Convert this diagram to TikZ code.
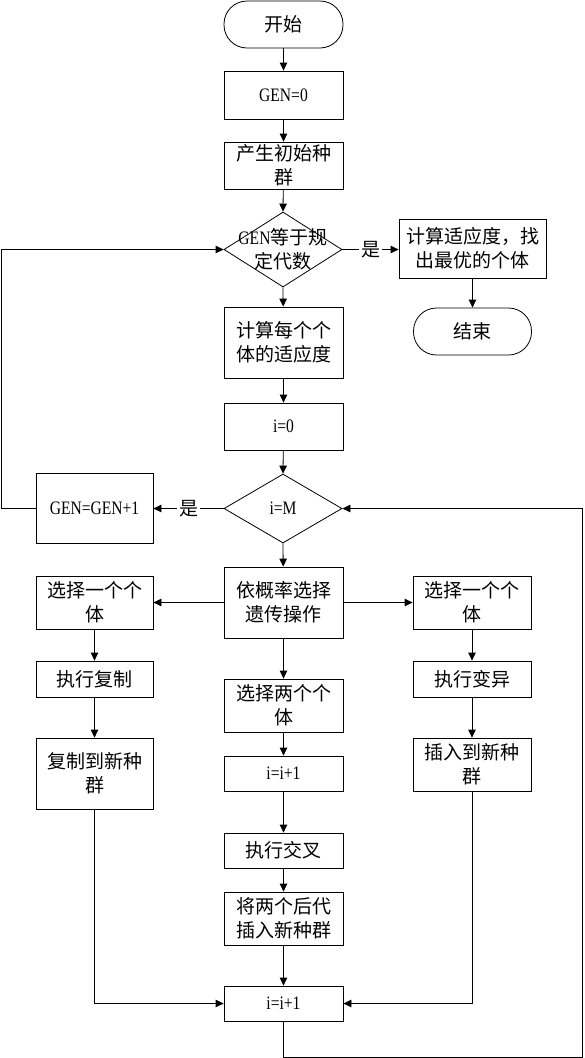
\documentclass[tikz,border=0pt]{standalone}
\usepackage{fontspec}
\setmainfont[FakeStretch=0.82]{Liberation Serif}
\newfontfamily\cjk{Noto Sans CJK SC}
\usetikzlibrary{shapes.geometric,arrows.meta}
\begin{document}
\begin{tikzpicture}[x=1pt,y=-1pt,
  every path/.style={line width=0.8pt},
  txt/.style={font=\cjk\fontsize{19}{24}\selectfont, align=center, inner sep=0pt},
  lat/.style={font=\rmfamily\fontsize{19}{24}\selectfont},
  box/.style={draw, txt, rectangle},
  term/.style={box, rounded corners=23pt},
  dia/.style={draw, diamond, inner sep=0pt, minimum width=118pt},
  arr/.style={-{Triangle[length=8pt,width=7.5pt]}},
  lbl/.style={txt, fill=white, inner xsep=2pt}]
\useasboundingbox (0,0) rectangle (584,1058);
% center column
\node[term, minimum width=119pt, minimum height=47pt] (start) at (283.5,24.5) {开始};
\node[box, lat, minimum width=119pt, minimum height=48pt] (gen0) at (283.5,95) {GEN=0};
\node[box, minimum width=119pt, minimum height=47pt] (init) at (283.5,165.5) {产生初始种\\群};
\node[dia, minimum height=75pt] (d1) at (283,249.5) {};
\node[txt] (d1t) at (d1.center) {{\rmfamily GEN}等于规\\定代数};
\node[box, minimum width=147pt, minimum height=59pt] (best) at (472.5,248.5) {计算适应度，找\\出最优的个体};
\node[term, minimum width=118pt, minimum height=47pt] (end) at (472.5,331.5) {结束};
\node[box, minimum width=119pt, minimum height=71pt] (fit) at (283.5,342.5) {计算每个个\\体的适应度};
\node[box, lat, minimum width=119pt, minimum height=47pt] (i0) at (283.5,426.5) {i=0};
\node[dia, minimum height=69pt] (d2) at (283,508.5) {};
\node[txt, lat] (d2t) at (d2.center) {i=M};
\node[box, lat, minimum width=117pt, minimum height=70pt] (genp) at (94.5,508) {GEN=GEN+1};
\node[box, minimum width=119pt, minimum height=71pt] (sel) at (283.5,602.5) {依概率选择\\遗传操作};
\node[box, minimum width=117pt, minimum height=53pt] (l1) at (94.5,602.5) {选择一个个\\体};
\node[box, minimum width=118pt, minimum height=53pt] (r1) at (472,602.5) {选择一个个\\体};
\node[box, minimum width=117pt, minimum height=36pt] (l2) at (94.5,679) {执行复制};
\node[box, minimum width=118pt, minimum height=36pt] (r2) at (472,679) {执行变异};
\node[box, minimum width=117pt, minimum height=71pt] (l3) at (94.5,773.5) {复制到新种\\群};
\node[box, minimum width=118pt, minimum height=53pt] (r3) at (472,764.5) {插入到新种\\群};
\node[box, minimum width=119pt, minimum height=53pt] (m1) at (283.5,705.5) {选择两个个\\体};
\node[box, lat, minimum width=119pt, minimum height=35pt] (m2) at (283.5,773.5) {i=i+1};
\node[box, minimum width=119pt, minimum height=35pt] (m3) at (283.5,850.5) {执行交叉};
\node[box, minimum width=119pt, minimum height=53pt] (m4) at (283.5,918.5) {将两个后代\\插入新种群};
\node[box, lat, minimum width=119pt, minimum height=35pt] (m5) at (283.5,1003.5) {i=i+1};
% coordinates for loops
\coordinate (cb) at (582,1057);
\coordinate (cl) at (1,249.5);
% connectors
\draw[arr] (start) -- (gen0);
\draw[arr] (gen0) -- (init);
\draw[arr] (init) -- (d1.north);
\draw[arr] (d1.east) -- node[lbl] {是} (best.west |- d1.east);
\draw[arr] (best) -- (end);
\draw[arr] (d1.south) -- (fit);
\draw[arr] (fit) -- (i0);
\draw[arr] (i0) -- (d2.north);
\draw[arr] (d2.west) -- node[lbl] {是} (genp.east |- d2.west);
\draw[arr] (genp.west) -| (cl) -- (d1.west);
\draw[arr] (d2.south) -- (sel);
\draw[arr] (sel.west) -- (l1.east |- sel.west);
\draw[arr] (sel.east) -- (r1.west |- sel.east);
\draw[arr] (l1) -- (l2);
\draw[arr] (l2) -- (l3);
\draw[arr] (r1) -- (r2);
\draw[arr] (r2) -- (r3);
\draw[arr] (sel) -- (m1);
\draw[arr] (m1) -- (m2);
\draw[arr] (m2) -- (m3);
\draw[arr] (m3) -- (m4);
\draw[arr] (m4) -- (m5);
\draw[arr] (l3.south) |- (m5.west);
\draw[arr] (r3.south) |- (m5.east);
\draw[arr] (m5.south) |- (cb) |- (d2.east);
\end{tikzpicture}
\end{document}
